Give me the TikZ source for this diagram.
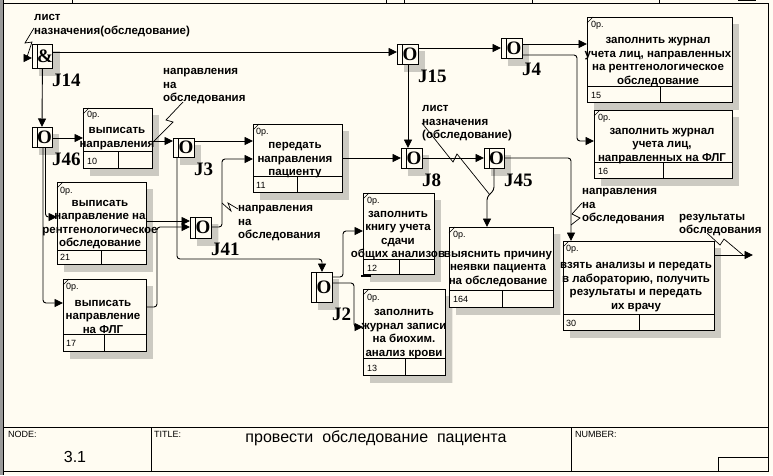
\documentclass[tikz,border=0pt]{standalone}
\usepackage{fontspec}
\setmainfont{Liberation Sans}
\newfontfamily\jctfont{Liberation Serif}
\usetikzlibrary{arrows.meta,shadows,patterns.meta,calc}
\definecolor{paper}{HTML}{FFFCF2}
\tikzset{
  opbox/.style={draw, line width=1pt, fill=paper, anchor=north west, inner sep=0pt, outer sep=0pt,
    drop shadow={shadow xshift=7pt, shadow yshift=-7pt, fill=none, opacity=1,
      pattern={Dots[distance=2pt, radius=0.72pt]}, pattern color=black!85}},
  jctbox/.style={opbox, font=\jctfont\fontsize{19}{19}\selectfont\bfseries},
  optext/.style={font=\fontsize{11.5}{13.5}\selectfont\bfseries, align=center, inner sep=0pt, yshift=-1.5pt},
  wirelabel/.style={optext, align=left, anchor=west},
  jctlabel/.style={font=\jctfont\fontsize{19}{19}\selectfont\bfseries, anchor=west, inner sep=0pt},
  tag/.style={font=\fontsize{9}{10}\selectfont, anchor=west, inner sep=0pt},
  wire/.style={line width=0.9pt, rounded corners=3pt, -{Triangle[length=8.5pt,width=8pt]}},
  squiggle/.style={line width=0.7pt},
  rule/.style={line width=1pt}
}
\begin{document}
\begin{tikzpicture}[x=1pt, y=-1pt]
    \useasboundingbox (0,0) rectangle (773,475);
    \fill[paper] (0,0) rectangle (773,475);

    % Window edge and drawing frame
    \fill[black!40] (0,0) rectangle (3,475);
    \draw[rule] (3.5,0) -- (3.5,475);
    \draw[rule] (3.5,3.5) -- (768.5,3.5) -- (768.5,471.5) -- (3.5,471.5);
    \draw[rule] (72.5,0) -- (72.5,3.5);
    \draw[rule] (386.5,0) -- (386.5,3.5);
    \draw[rule] (404.5,0) -- (404.5,3.5);
    \draw[rule] (532.5,0) -- (532.5,3.5);
    \draw[rule] (659.5,0) -- (659.5,3.5);
    \fill (738,0) rectangle (756,1);

    % Title block
    \draw[rule] (3.5,427.5) -- (768.5,427.5);
    \draw[rule] (151.5,427.5) -- (151.5,471.5);
    \draw[rule] (571.5,427.5) -- (571.5,471.5);
    \draw[rule] (718.5,457.5) rectangle (768.5,471.5);
    \node[tag] (nodecap) at (8,434.5) {NODE:};
    \node[tag] (titlecap) at (154,434.5) {TITLE:};
    \node[tag] (numbercap) at (575,434.5) {NUMBER:};
    \node[font=\fontsize{16}{16}\selectfont, inner sep=0pt] (nodeval) at (75,457) {3.1};
    \node[font=\fontsize{16}{16}\selectfont, inner sep=0pt] (titleval) at (376,438) {провести\ \ обследование\ \ пациента};

    % 15 - journal
    \node[opbox, minimum width=145, minimum height=85] (b15) at (587,17) {};
    \draw[rule] (587,86) -- (732,86);
    \draw[rule] (660,86) -- (660,102);
    \draw[line width=0.6pt] (587,23) -- (593,17);
    \node[tag] (tag15) at (591,25) {0р.};
    \node[tag] (num15) at (591,95) {15};
    \node[optext] (txt15) at (658,60.5) {заполнить журнал\\учета лиц, направленных\\на рентгенологическое\\обследование};

    % 16 - journal
    \node[opbox, minimum width=138, minimum height=68] (b16) at (594,110) {};
    \draw[rule] (594,162) -- (732,162);
    \draw[rule] (663,162) -- (663,178);
    \draw[line width=0.6pt] (594,116) -- (600,110);
    \node[tag] (tag16) at (598,118) {0р.};
    \node[tag] (num16) at (598,171) {16};
    \node[optext] (txt16) at (662,144.5) {заполнить журнал\\учета лиц,\\направленных на ФЛГ};

    % 10 - first referral
    \node[opbox, minimum width=69, minimum height=60] (b10) at (83,108) {};
    \draw[rule] (83,151) -- (152,151);
    \draw[rule] (118,151) -- (118,168);
    \draw[line width=0.6pt] (83,114) -- (89,108);
    \node[tag] (tag10) at (87,115) {0р.};
    \node[tag] (num10) at (87,161) {10};
    \node[optext] (txt10) at (117,137) {выписать\\направления};

    % 21 - x-ray referral
    \node[opbox, minimum width=89, minimum height=82] (b21) at (57,182) {};
    \draw[rule] (57,250) -- (146,250);
    \draw[rule] (101,250) -- (101,264);
    \draw[line width=0.6pt] (57,188) -- (63,182);
    \node[tag] (tag21) at (60,191) {0р.};
    \node[tag] (num21) at (60,257) {21};
    \node[optext] (txt21) at (100,223) {выписать\\направление на\\рентгенологическое\\обследование};

    % 17 - FLG referral
    \node[opbox, minimum width=83, minimum height=72] (b17) at (63,279) {};
    \draw[rule] (63,334) -- (146,334);
    \draw[rule] (104,334) -- (104,351);
    \draw[line width=0.6pt] (63,285) -- (69,279);
    \node[tag] (tag17) at (66,287) {0р.};
    \node[tag] (num17) at (66,343) {17};
    \node[optext] (txt17) at (103,315) {выписать\\направление\\на ФЛГ};

    % 11 - hand over
    \node[opbox, minimum width=89, minimum height=68] (b11) at (253,124) {};
    \draw[rule] (253,176) -- (342,176);
    \draw[rule] (297,176) -- (297,192);
    \draw[line width=0.6pt] (253,130) -- (259,124);
    \node[tag] (tag11) at (256,132) {0р.};
    \node[tag] (num11) at (256,185) {11};
    \node[optext] (txt11) at (295,159) {передать\\направления\\пациенту};

    % 12 - book
    \node[opbox, minimum width=71, minimum height=81] (b12) at (363,193) {};
    \draw[rule] (363,259) -- (434,259);
    \draw[rule] (399,259) -- (399,274);
    \draw[line width=0.6pt] (363,199) -- (369,193);
    \node[tag] (tag12) at (367,201) {0р.};
    \node[tag] (num12) at (367,268) {12};
    \node[optext] (txt12) at (398,234) {заполнить\\книгу учета\\сдачи\\общих анализов};
    \fill (361,275) rectangle (371,277);

    % 13 - biochem journal
    \node[opbox, minimum width=82, minimum height=86] (b13) at (363,289) {};
    \draw[rule] (363,358) -- (445,358);
    \draw[rule] (405,358) -- (405,375);
    \draw[line width=0.6pt] (363,295) -- (369,289);
    \node[tag] (tag13) at (367,298) {0р.};
    \node[tag] (num13) at (367,368) {13};
    \node[optext] (txt13) at (404,332.5) {заполнить\\журнал записи\\на биохим.\\анализ крови};

    % 164 - no show
    \node[opbox, minimum width=104, minimum height=80] (b164) at (449,227) {};
    \draw[rule] (449,290) -- (553,290);
    \draw[rule] (502,290) -- (502,307);
    \draw[line width=0.6pt] (449,233) -- (455,227);
    \node[tag] (tag164) at (453,235) {0р.};
    \node[tag] (num164) at (453,299) {164};
    \node[optext] (txt164) at (498,267.5) {выяснить причину\\неявки пациента\\на обследование};

    % 30 - lab
    \node[opbox, minimum width=151, minimum height=89] (b30) at (563,241) {};
    \draw[rule] (563,314) -- (714,314);
    \draw[rule] (639,314) -- (639,330);
    \draw[line width=0.6pt] (563,247) -- (569,241);
    \node[tag] (tag30) at (566,249) {0р.};
    \node[tag] (num30) at (566,323) {30};
    \node[optext] (txt30) at (636,285.5) {взять анализы и передать\\в лабораторию, получить\\результаты и передать\\их врачу};

    % Junctions
    \node[jctbox, minimum width=20, minimum height=24] (j14) at (32,44) {\hspace{5pt}\&};
    \draw[rule] (37,44) -- (37,68);
    \node[jctbox, minimum width=20, minimum height=20] (j46) at (32,127) {\hspace{5pt}O};
    \draw[rule] (37,127) -- (37,147);
    \node[jctbox, minimum width=21, minimum height=19] (j3) at (173,138) {\hspace{5pt}O};
    \draw[rule] (178,138) -- (178,157);
    \node[jctbox, minimum width=21, minimum height=21] (j41) at (190,217) {\hspace{5pt}O};
    \draw[rule] (195,217) -- (195,238);
    \node[jctbox, minimum width=21, minimum height=30] (j2) at (311,272) {\hspace{5pt}O};
    \draw[rule] (316,272) -- (316,302);
    \node[jctbox, minimum width=21, minimum height=20] (j15) at (397,44) {\hspace{5pt}O};
    \draw[rule] (402,44) -- (402,64);
    \node[jctbox, minimum width=21, minimum height=20] (j4) at (501,38) {\hspace{5pt}O};
    \draw[rule] (506,38) -- (506,58);
    \node[jctbox, minimum width=21, minimum height=20] (j8) at (401,148) {\hspace{5pt}O};
    \draw[rule] (406,148) -- (406,168);
    \node[jctbox, minimum width=20, minimum height=20] (j45) at (484,148) {\hspace{5pt}O};
    \draw[rule] (489,148) -- (489,168);

    % Junction labels
    \node[jctlabel] (lj14) at (52,80.5) {J14};
    \node[jctlabel] (lj46) at (52,159.5) {J46};
    \node[jctlabel] (lj3) at (194,169.5) {J3};
    \node[jctlabel] (lj41) at (211,249.5) {J41};
    \node[jctlabel] (lj2) at (332,314) {J2};
    \node[jctlabel] (lj15) at (418,76.5) {J15};
    \node[jctlabel] (lj8) at (422,180.5) {J8};
    \node[jctlabel] (lj45) at (504,180.5) {J45};
    \node[jctlabel] (lj4) at (522,69.5) {J4};

    % Free ends
    \coordinate (inlet) at (24,58);
    \coordinate (outlet) at (753,255);

    % Connectors
    \draw[wire] (inlet) -- (j14.west |- 0,58);
    \draw[wire] (j14.east |- 0,52) -- (j15.west |- 0,52);
    \draw[wire] (j14.south) -- (j46.north);
    \draw[wire] (j46.east |- 0,138) -- (b10.west |- 0,138);
    \draw[wire] (43,147) -- (43,303) -- (b17.west |- 0,303);
    \draw[wire] (45.5,147) -- (45.5,217) -- (b21.west |- 0,217);
    \draw[wire] (b10.east |- 0,141) -- (j3.west |- 0,141);
    \draw[wire] (j3.east |- 0,141) -- (b11.west |- 0,141);
    \draw[wire] (177,157) -- (177,259) -- (322,259) -- (j2.north -| 322,0);
    \draw[wire] (b21.east |- 0,221) -- (j41.west |- 0,221);
    \draw[wire] (b17.east |- 0,307) -- (157,307) -- (157,227) -- (j41.west |- 0,227);
    \draw[wire] (j41.east |- 0,227) -- (222,227) -- (222,159) -- (b11.west |- 0,159);
    \draw[wire] (b11.east |- 0,158) -- (j8.west |- 0,158);
    \draw[wire] (j15.east |- 0,48) -- (j4.west |- 0,48);
    \draw[wire] (j15.south -| 408,0) -- (j8.north -| 408,0);
    \draw[wire] (j8.east) -- (j45.west);
    \draw[wire] (494,168) -- (494,190) -- (487,197) -- (b164.north -| 487,0);
    \draw[wire] (j45.east) -- (571,158) -- (b30.north -| 571,0);
    \draw[wire] (j4.east |- 0,44) -- (b15.west |- 0,44);
    \draw[wire] (j4.east |- 0,55) -- (577,55) -- (577,141) -- (b16.west |- 0,141);
    \draw[wire] (j2.east |- 0,277) -- (343,277) -- (343,231) -- (b12.west |- 0,231);
    \draw[wire] (j2.east |- 0,283) -- (354,283) -- (354,327) -- (b13.west |- 0,327);
    \draw[wire] (b30.east |- 0,255) -- (outlet);

    % Wire labels
    \node[wirelabel] (lab14) at (34,24) {лист\\назначения(обследование)};
    \node[wirelabel] (lab10) at (163,85) {направления\\на\\обследования};
    \node[wirelabel] (lab41) at (238,222) {направления\\на\\обследования};
    \node[wirelabel] (lab8) at (422,122) {лист\\назначения\\(обследование)};
    \node[wirelabel] (lab45) at (582,205) {направления\\на\\обследования};
    \node[wirelabel] (lab30) at (679,223.5) {результаты\\обследования};

    % Squiggles from labels to wires
    \draw[squiggle] (lab14.west |- 0,28) -- (25,43) -- (32,42) -- (27,57);
    \draw[squiggle] (183,102) -- (166,120) -- (173,122) -- (154,141);
    \draw[squiggle] (lab41.west |- 0,209) -- (228,203) -- (231,211) -- (222,203);
    \draw[squiggle] (lab8.west |- 0,123) -- (453,162) -- (457,154) -- (490,195);
    \draw[squiggle] (lab45.west |- 0,203) -- (572,214) -- (580,218) -- (571,225);
    \draw[squiggle] (707,233) -- (720,245) -- (724,239) -- (743,255);
\end{tikzpicture}
\end{document}
